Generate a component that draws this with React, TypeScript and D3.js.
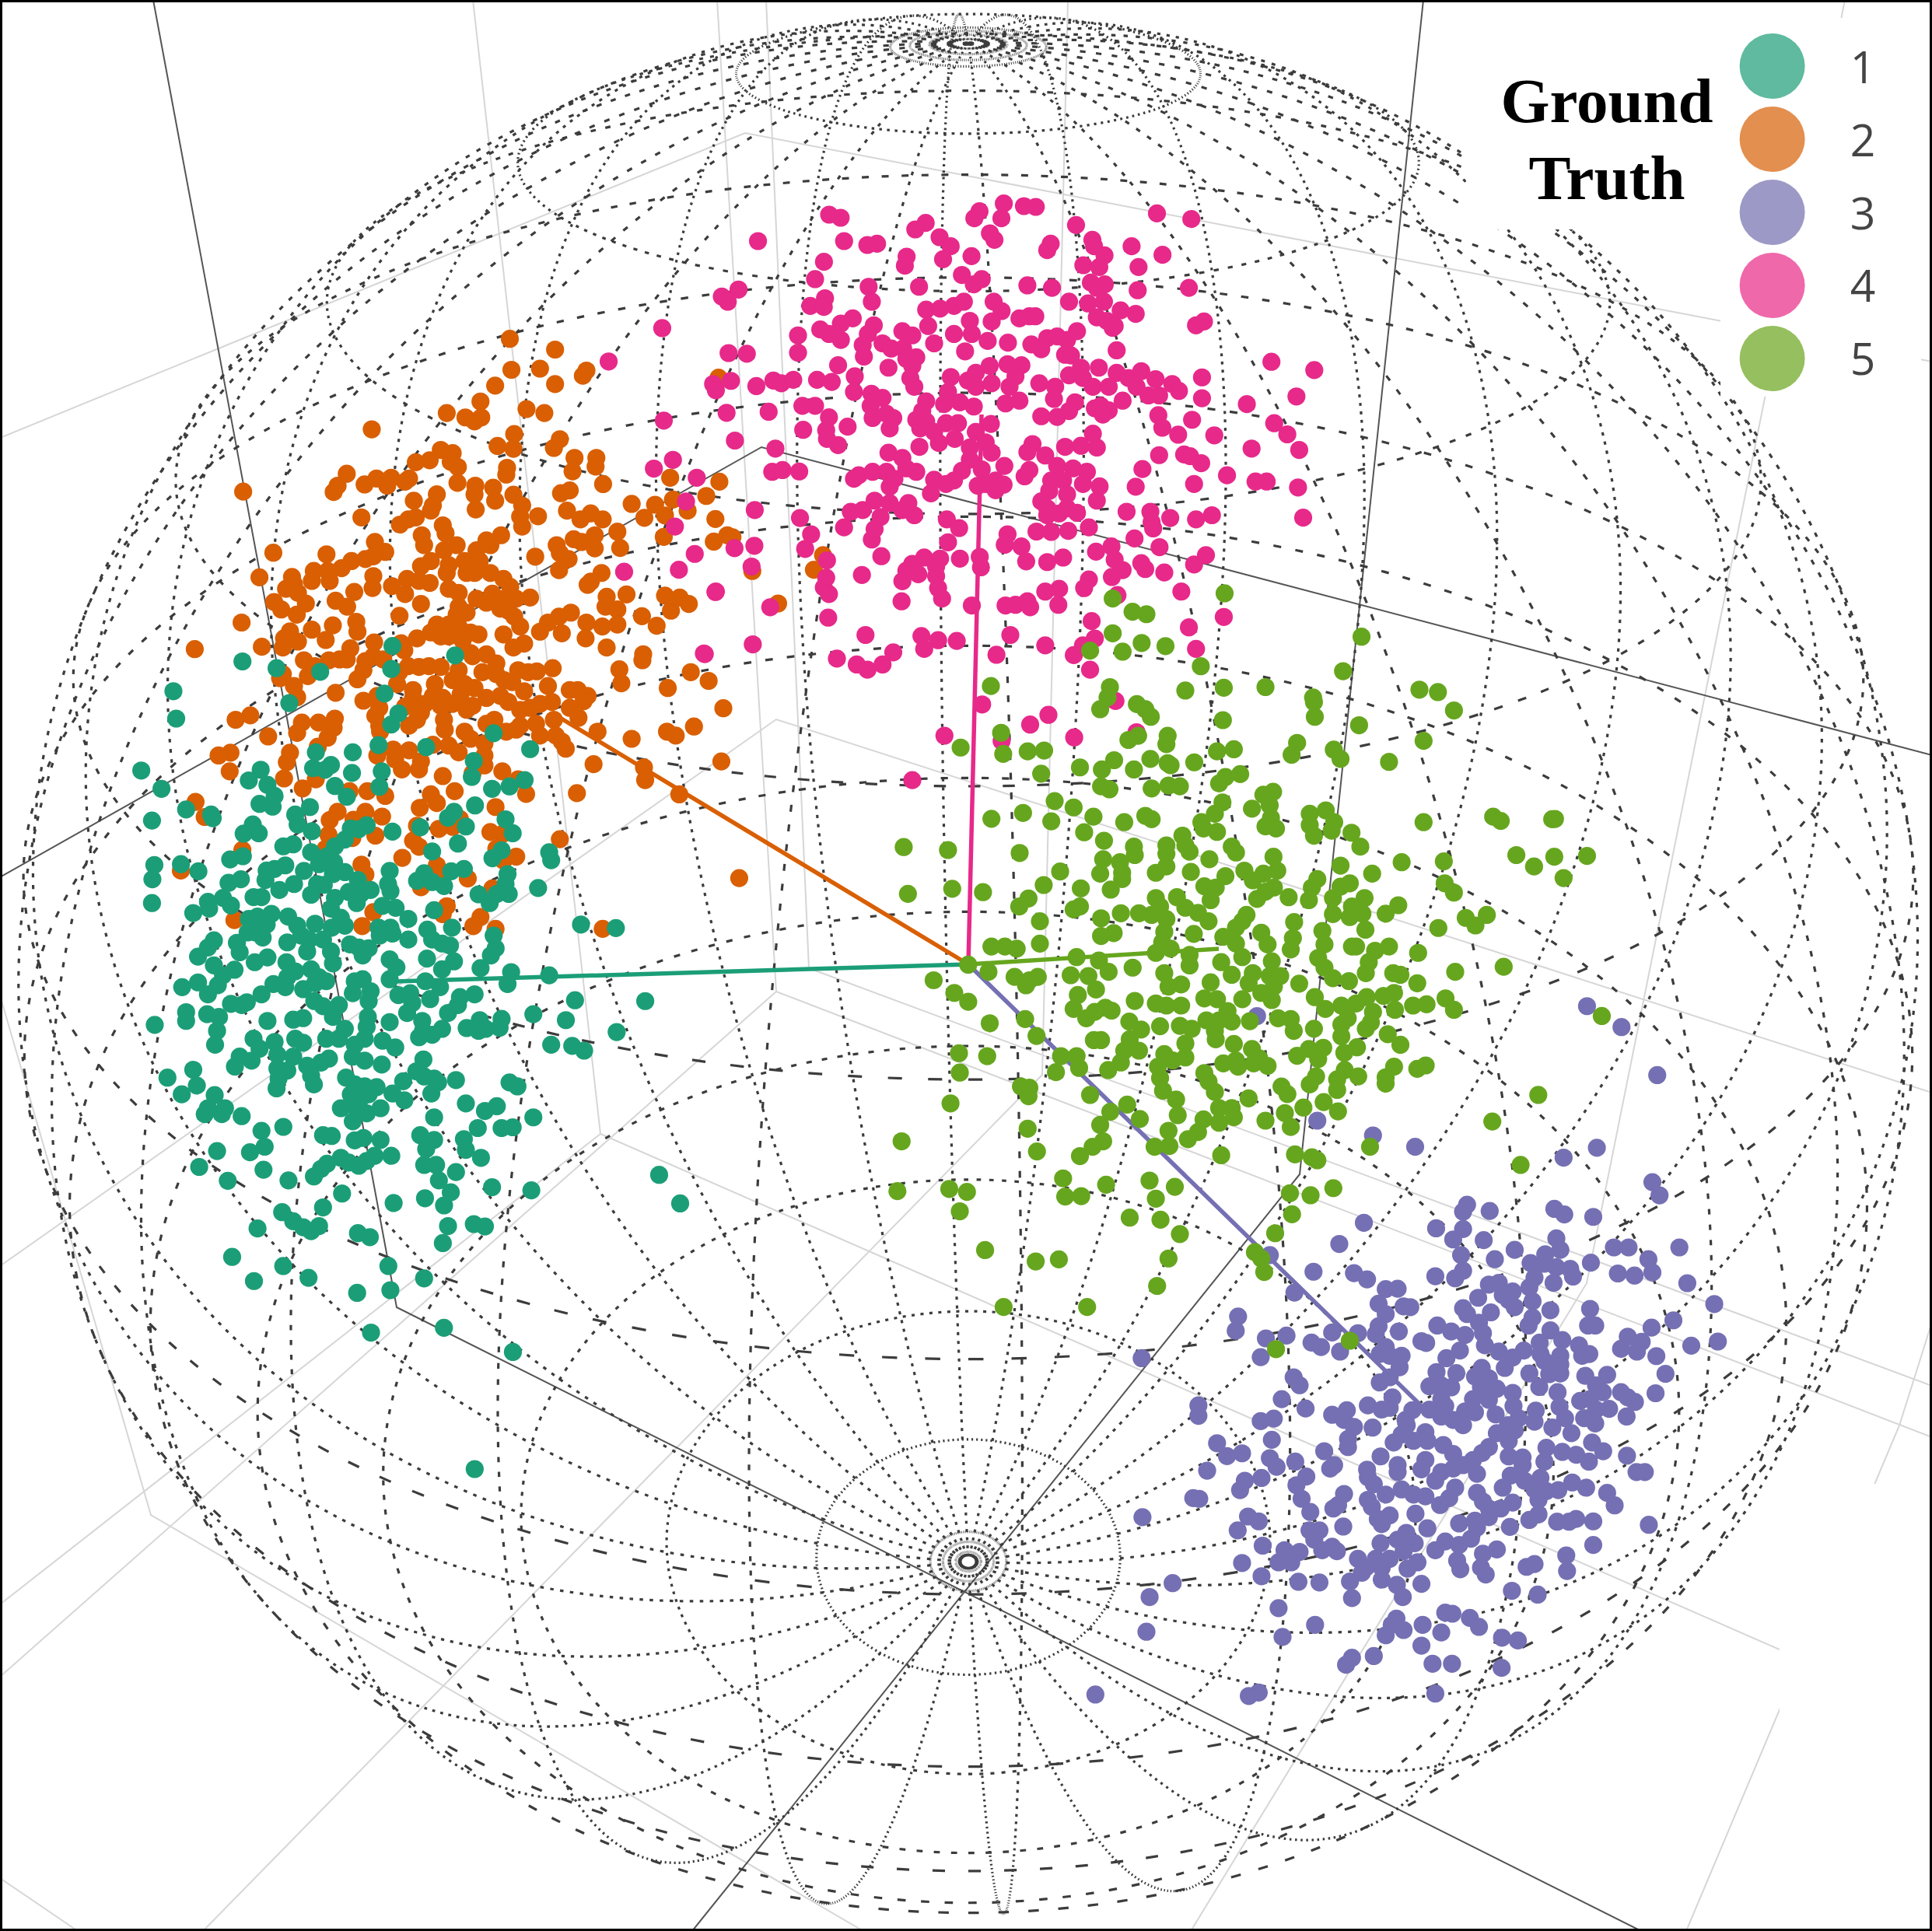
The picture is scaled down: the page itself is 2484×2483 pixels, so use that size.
import * as d3 from 'd3';

type Pt = [number, number];

const WIDTH = 2484;
const HEIGHT = 2483;

const tealPts: Pt[] = [[317,99],[403,116],[513,125],[143,174],[150,243],[695,60],[692,118],[853,84],[675,180],[435,204],[710,230],[692,258],[62,374],[113,420],[175,472],[238,485],[242,494],[89,500],[502,328],[660,310],[595,328],[780,315],[900,350],[495,368],[540,360],[525,372],[363,372],[333,399],[668,376],[593,380],[895,390],[1042,320],[950,280],[1028,398],[990,414],[946,420],[380,410],[398,438],[360,458],[393,465],[550,413],[580,440],[662,415],[487,466],[450,485],[456,510],[903,462],[980,497],[998,532],[850,478],[880,515],[765,517],[835,493],[860,558],[343,510],[320,533],[358,532],[492,527],[610,522],[630,512],[695,528],[590,520],[575,548],[420,565],[445,560],[490,580],[550,565],[530,590],[795,578],[970,575],[947,595],[1090,580],[1095,600],[318,590],[286,598],[95,612],[162,610],[90,648],[206,628],[425,613],[398,622],[378,626],[375,650],[313,648],[282,657],[410,675],[447,660],[472,627],[510,610],[548,605],[575,630],[545,635],[505,660],[522,662],[490,687],[688,627],[640,675],[608,650],[684,660],[690,678],[775,633],[757,652],[795,655],[825,665],[843,628],[875,622],[985,635],[980,660],[1062,670],[912,686],[940,708],[958,685],[988,685],[89,708],[230,705],[233,722],[268,695],[288,714],[193,733],[345,693],[365,693],[550,695],[585,680],[615,685],[605,708],[540,722],[670,715],[703,720],[800,726],[1170,762],[1258,771],[735,748],[432,742],[390,735],[355,742],[333,748],[378,762],[455,765],[500,760],[565,745],[542,770],[575,765],[465,790],[690,770],[660,770],[845,770],[783,775],[795,800],[663,790],[695,785],[735,800],[820,810],[840,815],[950,790],[955,822],[943,840],[330,782],[350,782],[368,795],[245,802],[230,820],[205,843],[303,808],[310,832],[430,807],[485,800],[520,800],[480,830],[540,830],[588,812],[610,820],[635,822],[620,840],[380,845],[348,857],[428,857],[245,865],[782,848],[688,850],[705,870],[850,855],[820,875],[917,872],[297,876],[268,890],[450,880],[430,895],[490,875],[545,860],[510,895],[994,882],[1090,890],[985,912],[688,900],[778,905],[600,905],[620,900],[640,930],[595,935],[635,955],[815,920],[710,940],[740,935],[165,920],[205,908],[255,915],[230,938],[395,912],[365,938],[425,920],[470,925],[500,910],[528,905],[902,938],[865,945],[790,950],[745,960],[1155,953],[1332,955],[288,962],[315,965],[328,958],[498,955],[520,968],[560,965],[175,983],[175,1005],[96,1015],[228,988],[258,995],[545,995],[732,985],[770,1005],[835,985],[860,965],[633,995],[1050,988],[1132,1003],[970,1000],[688,1008],[380,1005],[445,1002],[470,998],[915,1003],[882,1023],[912,1030],[930,1025],[965,1022],[1260,1033],[253,1030],[575,1025],[630,1020],[772,1030],[820,1025],[248,1065],[345,1050],[398,1058],[450,1050],[470,1060],[528,1050],[560,1050],[625,1050],[670,1055],[600,1065],[702,1072],[1095,1065],[1148,1068],[1178,1080],[795,1040],[762,1046],[360,1075],[310,1095],[340,1105],[298,1120],[405,1090],[445,1095],[535,1100],[515,1110],[595,1095],[625,1105],[668,1115],[773,1102],[755,1132],[405,1125],[430,1130],[193,1128],[128,1148],[480,1118],[490,1143],[408,1150],[497,1165],[403,1175],[578,1148],[775,1145],[800,1150],[810,1160],[855,1154],[722,1157],[990,1160],[1010,1170],[600,1165],[625,1170],[655,1172],[590,1190],[635,1190],[695,1188],[793,1188],[202,1168],[164,1190],[247,1192],[725,1205],[615,1200],[880,1213],[958,1220],[928,1232],[565,1225],[600,1220],[665,1225],[230,1225],[273,1225],[222,1240],[265,1240],[315,1245],[630,1238],[595,1258],[800,1248],[1050,1248],[420,1272],[365,1282],[910,1275],[970,1275],[998,1273],[520,1293],[542,1295],[765,1293],[800,1305],[875,1303],[665,1305],[622,1300],[600,1306],[373,1322],[253,1333],[336,1336],[780,1328],[880,1330],[692,1345],[918,1350],[650,1345],[630,1358],[565,1350],[530,1365],[585,1362],[610,1370],[775,1368],[805,1368],[208,1373],[370,1380],[515,1378],[855,1386],[497,1397],[433,1407],[280,1408],[812,1407],[1367,1393],[946,1424],[568,1440],[842,1437],[1045,1432],[777,1452],[698,1464],[825,1470],[1420,1465],[520,1475],[417,1487],[445,1510],[470,1525],[510,1522],[490,1535],[355,1528],[835,1522],[900,1517],[928,1523],[608,1540],[638,1550],[822,1565]];
const tealLowPts: Pt[] = [[468,313],[571,330],[783,330],[512,358],[622,352],[855,353],[720,380],[787,375],[748,454],[895,445],[1034,490],[957,708]];

const orangePts: Pt[] = [[834,70],[948,97],[838,148],[910,145],[1027,150],[1018,163],[797,188],[948,184],[760,228],[675,257],[722,268],[745,278],[762,268],[876,247],[921,257],[486,298],[845,310],[960,323],[945,345],[803,340],[843,347],[660,350],[690,358],[632,376],[597,381],[685,380],[703,393],[997,370],[1052,370],[1050,392],[992,404],[827,395],[825,412],[423,410],[400,440],[390,456],[468,437],[498,422],[525,440],[535,420],[570,430],[580,422],[702,433],[747,440],[745,462],[792,445],[797,478],[843,463],[1069,436],[985,452],[963,459],[162,455],[650,462],[640,490],[635,503],[592,478],[1141,486],[1200,488],[1245,475],[1329,466],[1362,430],[1238,420],[1360,168],[748,500],[865,490],[860,518],[865,543],[905,517],[978,503],[1038,510],[1012,525],[1068,525],[1173,521],[1225,515],[1282,503],[1352,524],[460,520],[557,538],[578,525],[597,520],[665,540],[672,560],[812,565],[1105,556],[1222,569],[1348,581],[1382,565],[1395,570],[612,565],[618,590],[494,582],[785,590],[775,578],[995,575],[1015,582],[1048,565],[1048,598],[1112,597],[238,609],[372,613],[520,607],[490,618],[668,603],[700,590],[750,603],[898,619],[952,590],[960,610],[982,625],[1445,655],[435,630],[470,625],[340,655],[410,648],[375,655],[635,630],[610,643],[680,640],[720,630],[758,630],[785,660],[958,653],[1065,660],[1038,682],[1030,690],[203,671],[285,670],[270,700],[290,688],[335,680],[380,680],[490,668],[488,698],[575,675],[605,680],[632,685],[675,660],[725,660],[745,660],[818,675],[835,695],[537,693],[442,708],[300,710],[320,737],[240,733],[258,752],[395,730],[424,745],[570,713],[610,738],[680,700],[705,710],[750,725],[775,735],[790,712],[885,722],[820,725],[850,725],[1078,720],[1075,745],[1128,714],[1225,717],[1240,755],[1262,722],[1285,738],[1510,737],[297,765],[556,768],[705,745],[725,760],[700,765],[830,755],[810,750],[845,770],[988,760],[958,770],[930,785],[1105,752],[1167,769],[1105,790],[1204,793],[1027,785],[1067,795],[158,785],[388,792],[447,783],[450,808],[335,803],[280,807],[265,825],[650,790],[680,790],[705,795],[735,810],[755,815],[860,795],[818,815],[910,808],[965,812],[1025,825],[370,829],[300,833],[262,848],[209,846],[40,852],[560,837],[568,855],[492,835],[600,825],[635,810],[660,820],[680,820],[715,830],[870,838],[843,848],[1078,848],[432,850],[1170,865],[1168,880],[735,862],[775,865],[315,880],[378,880],[405,878],[423,878],[490,870],[515,878],[470,882],[800,888],[740,870],[325,920],[343,895],[262,915],[255,925],[290,945],[465,905],[450,928],[578,895],[605,897],[630,895],[660,897],[555,910],[705,905],[765,910],[800,915],[855,905],[880,910],[902,908],[942,900],[1110,903],[1115,938],[1290,910],[1335,932],[820,930],[840,935],[550,940],[690,930],[645,940],[720,940],[745,950],[930,945],[1232,950],[298,973],[395,962],[465,982],[590,955],[590,975],[870,958],[985,955],[1005,955],[1030,970],[1020,983],[500,970],[640,970],[665,975],[710,965],[775,975],[810,970],[620,990],[570,997],[660,995],[690,990],[740,995],[830,985],[910,990],[940,985],[860,1005],[885,1000],[985,1000],[1372,1001],[505,1000],[495,1020],[610,1012],[725,1005],[945,1030],[1007,1025],[180,1019],[143,1030],[393,1027],[352,1037],[310,1037],[298,1063],[390,1050],[505,1045],[580,1045],[600,1030],[668,1030],[795,1030],[775,1040],[900,1040],[860,1045],[825,1060],[850,1055],[1298,1047],[1230,1060],[1252,1070],[1055,1060],[225,1072],[507,1060],[670,1055],[720,1060],[735,1078],[910,1070],[950,1070],[965,1085],[1141,1078],[975,1103],[375,1075],[350,1098],[770,1090],[640,1093],[680,1095],[705,1112],[130,1113],[100,1120],[128,1160],[280,1113],[272,1137],[580,1107],[540,1105],[500,1120],[545,1130],[610,1135],[605,1155],[562,1155],[770,1120],[760,1135],[770,1145],[1045,1142],[1172,1150],[1367,1135],[740,1165],[815,1160],[855,1180],[265,1178],[345,1180],[312,1203],[665,1172],[1175,1182],[1261,1218],[430,1210],[475,1210],[520,1222],[695,1210],[875,1217],[1003,1215],[635,1218],[650,1240],[42,1237],[607,1252],[798,1250],[65,1275],[400,1262],[380,1283],[470,1262],[512,1274],[440,1282],[708,1280],[690,1300],[655,1305],[600,1297],[495,1322],[437,1328],[377,1320],[785,1313],[815,1318],[960,1331],[590,1335],[605,1350],[370,1355],[800,1355],[160,1358],[563,1378],[818,1385],[850,1375],[650,1397],[460,1395],[470,1420],[660,1415],[1412,1429],[5,1410],[728,1430],[610,1452],[790,1455],[470,1458],[675,1500],[665,1520],[490,1515],[140,1535],[760,1527],[742,1550],[798,1557],[1068,1557],[462,1550]];
const orangeEastPts: Pt[] = [[310,815],[287,857]];

const pinkTopPts: Pt[] = [[875,785],[933,795],[967,798],[805,815],[790,842],[868,842],[372,828],[405,840],[1316,823],[1415,845],[1083,868],[650,860],[620,885],[835,900],[848,925],[1130,925],[1135,950],[690,915],[722,950],[167,930],[415,930],[482,945],[510,940],[1010,940],[1000,965],[1243,950],[1332,983],[595,990],[700,1000],[782,988],[357,1010],[1165,985],[590,1025],[1263,1030],[1104,1023],[1150,1030]];
const pinkPts: Pt[] = [[290,20],[425,42],[552,42],[660,8],[690,35],[710,20],[825,38],[887,45],[985,30],[1000,45],[1020,35],[1103,52],[1232,45],[97,50],[55,70],[70,85],[315,75],[278,97],[312,100],[433,85],[570,108],[605,105],[640,97],[665,85],[740,85],[760,112],[930,85],[978,90],[1018,85],[1060,110],[1098,120],[1000,130],[1025,140],[1045,155],[805,133],[830,127],[845,127],[735,142],[680,140],[385,133],[355,148],[438,153],[575,155],[1250,153],[1270,142],[303,165],[325,178],[355,195],[247,182],[423,178],[410,210],[460,205],[510,170],[535,182],[640,178],[685,178],[950,170],[1040,160],[725,198],[776,203],[590,205],[482,220],[512,220],[835,208],[860,222],[875,190],[900,185],[925,195],[247,232],[668,228],[72,233],[118,235],[413,243],[545,245],[520,250],[920,238],[935,240],[1050,225],[348,268],[475,275],[535,270],[1440,258],[1548,282],[185,312],[205,320],[235,310],[295,310],[332,316],[390,300],[388,345],[78,313],[33,322],[40,340],[142,328],[530,305],[540,330],[632,302],[675,312],[695,290],[730,270],[775,265],[810,268],[795,300],[695,330],[735,320],[780,330],[855,320],[895,330],[960,275],[1005,275],[1050,290],[1080,305],[1112,285],[930,297],[965,305],[990,330],[1030,330],[1100,330],[1148,308],[1190,322],[1207,342],[1265,303],[1157,355],[1130,355],[1065,370],[1265,363],[1503,358],[625,345],[615,380],[690,387],[655,375],[432,350],[460,362],[430,385],[258,385],[290,385],[892,365],[770,378],[805,370],[945,375],[1378,380],[570,372],[1010,385],[995,392],[1030,398],[560,400],[67,405],[173,402],[470,408],[487,420],[435,420],[860,415],[900,417],[930,400],[1015,410],[1155,412],[1165,448],[1240,425],[1447,435],[325,418],[372,445],[545,425],[570,430],[620,435],[650,435],[733,437],[478,450],[555,450],[590,460],[260,454],[318,455],[695,460],[1205,468],[1296,470],[1480,467],[642,480],[990,465],[88,485],[602,492],[348,498],[320,480],[553,503],[720,490],[838,495],[1000,505],[960,500],[920,503],[680,505],[190,508],[1390,508],[1510,512],[475,520],[735,520],[825,518],[870,528],[1157,527],[1220,525],[1235,530],[680,540],[510,535],[1263,550],[767,558],[900,558],[940,565],[1115,567],[182,575],[208,570],[250,574],[400,585],[435,575],[470,575],[520,565],[545,575],[660,572],[710,568],[975,575],[830,570],[818,588],[1328,585],[590,598],[640,600],[490,595],[388,595],[885,600],[915,600],[745,600],[965,610],[1400,603],[1428,603],[1245,610],[700,615],[720,610],[765,612],[745,628],[1007,617],[478,618],[1098,618],[1507,620],[582,637],[620,610],[880,630],[925,640],[860,660],[1000,658],[440,658],[478,665],[525,665],[410,685],[380,690],[510,685],[875,680],[905,695],[925,680],[950,693],[1075,690],[1135,690],[138,685],[540,700],[455,705],[875,700],[1290,700],[1185,708],[1250,712],[1520,707],[252,708],[622,712],[1138,720],[653,737],[363,735],[440,740],[848,747],[885,748],[928,745],[980,735],[1142,738],[280,755],[433,770],[775,755],[1095,767],[625,778],[768,785],[1037,790],[810,790],[137,788],[87,795],[265,797],[1158,792],[457,818],[565,822],[1275,815],[655,825],[605,825],[705,820],[915,822],[998,805],[320,830],[1045,828],[1112,838],[822,833],[875,835],[130,848],[535,840],[1122,855],[708,850],[1245,842],[1065,858],[520,860],[1170,865],[595,848],[550,870],[408,872],[1038,878],[318,880],[595,875],[510,890],[980,885],[312,908],[968,910],[40,920],[600,910],[905,912],[870,920],[325,927],[1213,920],[610,940],[1052,930],[508,948],[177,965],[685,960],[770,960],[795,958],[825,948],[832,965],[903,958],[323,995],[1320,993],[987,1005],[1232,1023],[417,1045],[782,1045],[558,1048],[133,1072],[600,1060],[647,1062],[995,1055],[870,1075],[965,1075],[565,1085],[1250,1085],[12,1100],[487,1095],[747,1102],[942,1103],[345,1113],[395,1130],[460,1130],[422,1145],[983,1145],[711,1245],[1047,1235],[878,1275],[832,1303],[1100,1325],[616,1335],[943,1340],[760,1350],[535,1463]];
const pinkWestPts: Pt[] = [[1218,43],[1083,127],[1222,276],[1197,397],[1245,375],[1305,420],[1278,480],[1250,543],[1300,612],[1122,657],[1260,652],[1352,708],[1323,863]];

const greenPts: Pt[] = [[995,5],[997,40],[1102,60],[1327,25],[488,22],[575,10],[595,22],[608,40],[779,48],[1255,97],[648,85],[645,105],[578,85],[555,95],[955,102],[942,130],[157,113],[253,78],[258,128],[316,122],[355,120],[765,122],[805,117],[1042,118],[1058,140],[1173,147],[521,143],[607,140],[648,150],[655,155],[711,148],[440,160],[492,165],[568,165],[348,175],[820,176],[785,183],[770,198],[490,205],[510,212],[610,210],[650,203],[677,205],[875,225],[898,218],[380,240],[425,255],[778,243],[848,258],[890,250],[305,268],[230,282],[372,288],[472,277],[545,290],[595,275],[610,283],[760,270],[728,290],[733,305],[985,270],[1023,262],[1043,290],[893,280],[880,300],[905,305],[985,297],[1037,310],[995,322],[1255,290],[1420,277],[1438,287],[1560,283],[450,314],[765,313],[683,322],[1084,315],[497,334],[690,345],[645,345],[568,348],[1105,348],[800,348],[22,349],[127,356],[297,363],[570,368],[700,360],[645,365],[810,362],[1475,368],[1565,372],[1517,395],[899,372],[747,378],[1303,383],[1203,385],[495,378],[535,385],[1058,393],[645,395],[620,410],[393,407],[703,408],[488,412],[540,410],[540,425],[830,405],[785,418],[908,405],[875,412],[850,428],[1133,412],[1305,435],[1327,457],[354,439],[735,442],[762,445],[442,447],[513,450],[1003,425],[990,445],[1058,443],[1080,435],[900,445],[880,455],[137,448],[32,460],[210,456],[750,475],[620,470],[670,468],[318,471],[296,490],[935,468],[860,472],[1115,470],[983,475],[1040,470],[1195,487],[440,490],[425,497],[630,490],[690,493],[1085,490],[1040,508],[1080,515],[1110,507],[1165,507],[835,510],[537,506],[580,506],[610,510],[720,505],[745,525],[645,520],[345,525],[1405,510],[1355,517],[1378,535],[490,518],[825,525],[948,527],[810,540],[1290,541],[1117,545],[520,553],[490,560],[640,550],[710,555],[1015,548],[870,552],[945,565],[1020,580],[635,575],[780,562],[885,580],[345,578],[230,585],[262,585],[290,590],[655,590],[940,592],[810,578],[1085,585],[1095,585],[1140,595],[1173,585],[1242,600],[825,610],[432,610],[620,600],[700,605],[1005,612],[1125,622],[485,618],[775,622],[175,628],[1445,633],[565,635],[1020,635],[700,630],[895,620],[1118,648],[223,645],[1330,645],[508,645],[640,648],[800,652],[850,648],[1183,648],[1200,652],[418,653],[460,655],[340,657],[285,657],[93,665],[1040,660],[890,655],[915,655],[320,665],[312,677],[1078,667],[960,673],[1240,672],[650,680],[680,675],[750,670],[840,672],[900,680],[478,687],[870,695],[142,695],[1185,695],[1160,702],[997,705],[435,700],[825,710],[735,708],[765,710],[895,712],[1120,705],[570,714],[175,716],[1307,708],[1095,720],[620,720],[645,725],[680,725],[1230,725],[1262,722],[1327,735],[1060,725],[1022,733],[1187,735],[500,730],[515,737],[425,733],[1135,740],[790,738],[455,755],[475,740],[740,760],[770,760],[800,763],[1075,755],[1130,765],[910,755],[940,757],[557,763],[843,762],[310,757],[226,767],[630,774],[677,773],[705,780],[1060,770],[1118,780],[585,782],[995,780],[947,785],[760,785],[1170,793],[1060,798],[337,797],[490,807],[473,807],[558,805],[762,805],[805,816],[1200,818],[690,815],[1097,824],[580,832],[545,832],[848,828],[983,828],[1017,825],[640,840],[1067,837],[153,838],[220,845],[395,845],[432,845],[955,844],[1005,852],[537,860],[660,855],[690,848],[865,850],[810,855],[780,862],[438,873],[625,870],[1185,870],[1260,867],[1240,875],[507,878],[155,884],[383,883],[885,868],[852,862],[815,870],[735,885],[1068,878],[1000,893],[745,905],[1100,893],[1165,895],[630,897],[1050,900],[1165,910],[985,912],[300,917],[320,920],[918,917],[318,940],[760,930],[637,927],[932,935],[1050,925],[464,937],[840,945],[1527,937],[133,957],[668,948],[1018,954],[552,960],[770,968],[800,968],[970,967],[926,980],[1052,976],[512,977],[672,985],[582,994],[733,995],[805,990],[770,1003],[880,998],[1418,1000],[940,1013],[488,1008],[316,1017],[650,1022],[720,1025],[696,1042],[495,1047],[17,1047],[617,1060],[652,1058],[1128,1060],[470,1060],[338,1071],[440,1082],[775,1080],[950,1078],[990,1085],[1003,1092],[1485,1103],[400,1135],[605,1140],[130,1160],[172,1167],[502,1150],[665,1155],[7,1165],[1041,1158],[938,1170],[987,1175],[405,1178],[443,1177],[620,1183],[155,1213],[943,1220],[558,1228],[631,1233],[677,1267],[903,1265],[215,1305],[855,1310],[870,1325],[650,1325],[335,1332],[390,1327],[877,1357],[623,1390],[259,1440],[457,1440],[1080,1520],[905,1540]];
const greenNorthPts: Pt[] = [[1040,940],[1322,925],[1090,978],[1125,985],[1040,1040],[1113,1068],[1173,1077],[983,1090],[1065,1093],[1262,1135],[733,1192],[1033,1195],[1320,1197],[1425,1195],[1223,1205],[1545,1225],[1027,1225]];
const greenEastPts: Pt[] = [[1105,517],[1090,545],[1152,560],[1167,562],[1262,665],[1288,695],[1269,713],[1300,825]];

const purplePts: Pt[] = [[1322,45],[1340,83],[855,110],[845,130],[912,128],[1075,122],[1100,138],[1173,145],[595,162],[777,178],[845,180],[820,210],[897,212],[533,223],[1080,207],[1090,240],[975,240],[1225,233],[1262,233],[1390,233],[358,255],[840,255],[925,267],[1052,253],[1312,267],[1167,277],[1015,278],[468,303],[570,307],[603,325],[845,300],[825,322],[775,316],[1080,290],[1115,295],[1122,317],[1050,280],[1235,308],[1277,314],[1322,305],[1410,336],[1025,320],[1073,335],[1012,348],[910,340],[935,335],[650,353],[680,352],[970,360],[945,370],[883,378],[420,363],[632,395],[695,403],[712,405],[960,385],[1478,396],[975,405],[1020,388],[845,408],[1165,410],[915,420],[1065,414],[650,425],[855,425],[1020,435],[278,432],[1375,443],[885,450],[1160,458],[1178,458],[1010,458],[780,458],[1320,464],[632,460],[272,473],[625,483],[683,475],[815,475],[1065,472],[850,485],[895,480],[400,487],[348,495],[515,478],[580,480],[1260,490],[1487,504],[740,503],[752,508],[463,507],[900,515],[1038,507],[1095,500],[1295,505],[1420,516],[487,520],[1137,515],[837,530],[650,520],[1243,525],[1283,533],[535,533],[935,533],[998,530],[335,549],[35,552],[635,540],[660,545],[1040,540],[1145,545],[1163,540],[1090,545],[690,545],[803,552],[970,550],[1332,546],[685,578],[950,580],[1090,570],[1050,560],[1355,597],[778,592],[828,595],[892,580],[1012,596],[1062,598],[1090,596],[1153,603],[1208,600],[418,607],[433,630],[660,607],[635,622],[875,605],[910,610],[1037,635],[1180,630],[760,633],[815,636],[790,630],[890,635],[930,640],[1083,650],[1243,650],[1330,653],[970,652],[388,670],[1197,650],[1140,675],[1165,670],[1260,665],[1278,678],[667,665],[178,688],[448,697],[605,688],[790,670],[910,672],[870,670],[972,690],[1088,692],[1213,698],[178,718],[552,702],[515,715],[640,700],[660,695],[717,702],[760,700],[800,690],[1028,703],[850,705],[1180,700],[875,708],[927,714],[1102,725],[1257,720],[335,733],[368,726],[545,730],[700,730],[820,730],[1150,725],[1025,735],[790,720],[985,725],[958,745],[570,750],[617,752],[845,745],[1178,740],[930,768],[975,760],[750,765],[1070,752],[703,745],[363,787],[1118,768],[555,785],[670,795],[690,772],[720,790],[755,790],[225,797],[1170,795],[555,808],[960,790],[795,802],[910,808],[1055,810],[250,834],[288,826],[495,820],[358,840],[1198,820],[1095,822],[1130,830],[1258,833],[820,828],[960,835],[995,838],[893,825],[637,835],[520,860],[422,850],[375,865],[1050,850],[1162,850],[750,845],[200,876],[603,873],[680,860],[870,845],[845,860],[1282,880],[1303,880],[740,872],[995,860],[295,905],[337,897],[450,893],[510,870],[790,880],[820,870],[965,890],[605,895],[680,880],[880,885],[1040,897],[283,932],[425,918],[1000,905],[1120,910],[1155,925],[775,905],[620,915],[945,925],[180,957],[165,955],[438,957],[545,943],[880,940],[1208,940],[1085,932],[1055,935],[1025,930],[650,945],[690,930],[605,960],[720,945],[750,950],[825,925],[787,975],[810,955],[1035,960],[530,975],[518,985],[895,965],[970,968],[1227,976],[615,980],[37,1010],[460,995],[910,985],[940,985],[725,1000],[303,1008],[1035,1002],[1012,1018],[630,1015],[660,1005],[330,1022],[543,1037],[835,1028],[875,1020],[910,1010],[1082,1023],[1112,1023],[1130,1015],[1173,1022],[1313,1032],[640,1030],[277,1048],[458,1048],[483,1048],[755,1042],[963,1038],[880,1040],[702,1055],[470,1075],[680,1075],[865,1072],[800,1080],[637,1085],[723,1085],[1173,1090],[340,1092],[490,1105],[515,1095],[835,1090],[527,1108],[395,1105],[433,1110],[775,1105],[930,1103],[695,1108],[895,1115],[1105,1120],[395,1130],[380,1140],[412,1140],[580,1130],[625,1130],[660,1130],[830,1135],[890,1155],[730,1140],[1025,1145],[1005,1153],[288,1142],[600,1155],[640,1155],[705,1158],[838,1160],[902,1175],[1107,1165],[337,1180],[590,1170],[640,1190],[430,1196],[483,1198],[560,1195],[678,1205],[740,1202],[113,1200],[968,1222],[1033,1233],[565,1243],[693,1240],[55,1240],[380,1272],[800,1285],[818,1288],[677,1302],[862,1300],[885,1326],[472,1320],[743,1320],[695,1335],[47,1340],[665,1320],[790,1342],[650,1350],[390,1355],[943,1357],[983,1365],[740,1380],[620,1410],[565,1415],[550,1435],[768,1432],[817,1432],[942,1444],[775,1518],[330,1515],[305,1525]];
const purpleNorthPts: Pt[] = [[860,750],[1003,998],[1135,1033],[1235,1060]];
const purpleWestPts: Pt[] = [[889,1376],[1288,817],[1316,834],[1345,873],[1269,940],[1296,932]];

// plot box, in page pixels
const gridLines: Pt[][] = [
  [[0,563],[958,171],[2484,465]],
  [[0,1628],[998,925],[2484,1405]],
  [[922,0],[998,1275]],
  [[0,2156],[998,1275]],
  [[998,1275],[2484,1848]],
  [[985,0],[1040,1245]],
  [[1040,1245],[2484,1782]],
  [[1373,0],[1340,1382],[261,2483]],
  [[608,0],[772,1458]],
  [[0,2063],[772,1458]],
  [[772,1458],[2288,2121]],
  [[0,1280],[194,1948],[1110,2483]],
  [[2372,0],[2040,1650],[1531,2483]],
  [[2168,2483],[2442,1833],[2484,1700]],
  [[0,2415],[100,2483]],
];
const axisLines: Pt[][] = [
  [[197,0],[510,1681],[2110,2483]],
  [[1830,0],[1671,1510],[890,2483]],
  [[0,1128],[979,575],[2484,971]],
];

const origin: Pt = [1245, 1240];
const vectorEnds: Pt[] = [[507,1262],[720,923],[1840,1820],[1262,533],[1567,1220]];

const legendLabels = ['1', '2', '3', '4', '5'];
const colors = ['#1b9e77', '#d95f02', '#7570b3', '#e7298a', '#66a61e'];
const legendColors = ['#5fba9f', '#e38f4f', '#9d99c6', '#ef68aa', '#96bf5f'];

// sphere wireframe, degrees
const parallels = [1, 2, 3, 4, ...d3.range(12, 169, 12), 177, 178, 179];
const meridians = d3.range(30).map((i) => 2.35 + 12 * i);

// perspective camera fitted to the two poles and the outline
const cam = { f: 3028, d: 2.672, tilt: (55.3 * Math.PI) / 180 };

function project(colat: number, lon: number): Pt {
  const th = (colat * Math.PI) / 180;
  const la = (lon * Math.PI) / 180;
  const s = Math.sin(cam.tilt);
  const c = Math.cos(cam.tilt);
  const X = Math.sin(th) * Math.sin(la);
  const Y = Math.cos(th) * s - Math.sin(th) * Math.cos(la) * c;
  const Z = Math.cos(th) * c + Math.sin(th) * Math.cos(la) * s;
  const k = cam.f / (cam.d - Z);
  return [origin[0] + k * X, origin[1] - k * Y];
}

function dashes(curve: (u: number) => Pt, cycles: number, on: number) {
  const p = d3.path();
  for (let i = 0; i < cycles; i++) {
    const a = curve(i / cycles);
    const b = curve((i + on) / cycles);
    p.moveTo(a[0], a[1]);
    p.lineTo(b[0], b[1]);
  }
  return p.toString();
}

// maps a list's reading units to page pixels
function view(x0: number, y0: number, w: number, h: number, rh = 1568) {
  const x = d3.scaleLinear().domain([0, 1568]).range([x0, x0 + w]);
  const y = d3.scaleLinear().domain([0, rh]).range([y0, y0 + h]);
  return (pts: Pt[]) => pts.map(([a, b]) => [x(a), y(b)] as Pt);
}

const wholeView = view(0, 0, WIDTH, HEIGHT);
const view4 = view(150, 800, 800, 800);
const view5 = view(230, 400, 800, 800);
const view6 = view(900, 350, 800, 700);
const view7 = view(1150, 900, 850, 850);
const view8 = view(1450, 1500, 800, 700);
const view1 = view(900, 0, 700, 500, 1500);
const view10 = view(0, 1400, 1000, 1083);

const series = [
  { color: colors[1], pts: [...view5(orangePts), ...view6(orangeEastPts)] },
  { color: colors[0], pts: [...view4(tealPts), ...view10(tealLowPts)] },
  { color: colors[2], pts: [...view8(purplePts), ...view7(purpleNorthPts), ...wholeView(purpleWestPts)] },
  { color: colors[3], pts: [...view1(pinkTopPts), ...view6(pinkPts), ...view5(pinkWestPts)] },
  { color: colors[4], pts: [...view7(greenPts), ...view6(greenNorthPts), ...wholeView(greenEastPts)] },
];

export default function App() {
  const line = d3.line();
  const lat = parallels.map((a) => {
    const lonScale = d3.scaleLinear().domain([0, 1]).range([0, 360]);
    return dashes((u) => project(a, lonScale(u)), 190, 0.35);
  });
  const lon = meridians.map((m) => {
    const colatScale = d3.scaleLinear().domain([0, 1]).range([0, 180]);
    return dashes((u) => project(colatScale(u), m), 220, 0.35);
  });

  return (
    <svg
      width={WIDTH}
      height={HEIGHT}
      viewBox={`0 0 ${WIDTH} ${HEIGHT}`}
      style={{ position: 'absolute', left: 0, top: 0, background: '#fff' }}
    >
      <g fill="none" stroke="#d6d6d6" strokeWidth={2}>
        {gridLines.map((g, i) => <path key={i} d={line(g) ?? ''} />)}
      </g>
      <g fill="none" stroke="#555" strokeWidth={2}>
        {axisLines.map((g, i) => <path key={i} d={line(g) ?? ''} />)}
      </g>
      <g fill="none" stroke="#3c3c3c" strokeWidth={3.2}>
        {lat.map((d, i) => <path key={i} d={d} />)}
        {lon.map((d, i) => <path key={i} d={d} />)}
      </g>

      {/* white boxes behind the title and legend */}
      <rect x={1885} y={0} width={327} height={295} fill="#fff" />
      <rect x={2212} y={23} width={258} height={487} fill="#fff" />
      <rect x={2288} y={1908} width={196} height={575} fill="#fff" />

      <g fill="none" strokeWidth={5.5}>
        {vectorEnds.map((e, i) => <path key={i} d={line([origin, e]) ?? ''} stroke={colors[i]} />)}
      </g>

      {series.map((s) => (
        <g key={s.color} fill={s.color}>
          {s.pts.map(([x, y], i) => <circle key={i} cx={x} cy={y} r={11.6} />)}
        </g>
      ))}

      <g fontFamily="'Liberation Serif', serif" fontWeight="bold" fontSize={81} textAnchor="middle" fill="#000">
        <text x={2066} y={157}>Ground</text>
        <text x={2066} y={256}>Truth</text>
      </g>
      {legendLabels.map((t, i) => (
        <g key={t}>
          <circle cx={2278.6} cy={85 + i * 94} r={42} fill={legendColors[i]} />
          <text x={2395} y={107 + i * 93.8} textAnchor="middle" fontFamily="'Open Sans', sans-serif" fontSize={57} fill="#444">{t}</text>
        </g>
      ))}

      <rect x={1.5} y={1.5} width={WIDTH - 3} height={HEIGHT - 3} fill="none" stroke="#000" strokeWidth={3} />
    </svg>
  );
}
